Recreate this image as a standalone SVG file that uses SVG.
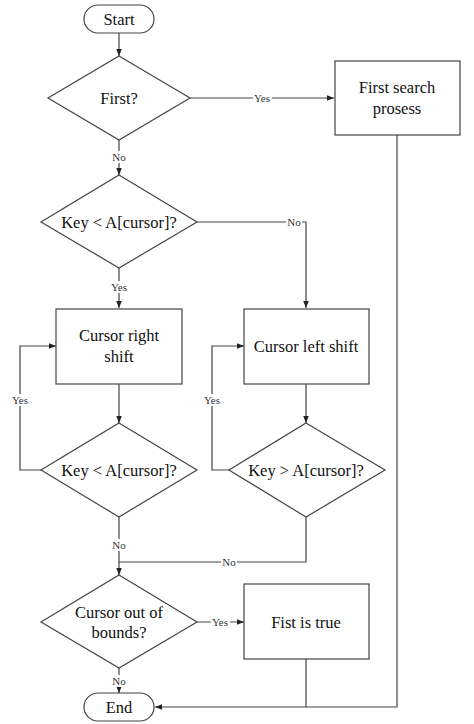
<svg xmlns="http://www.w3.org/2000/svg" width="474" height="724" viewBox="0 0 474 724">
<style>
.s{fill:#fff;stroke:#444;stroke-width:1.2}
.t{font-family:"Liberation Serif","Times New Roman",serif;font-size:16.5px;fill:#111;text-anchor:middle}
.c{fill:none;stroke:#444;stroke-width:1.2}
.l{font-family:"Liberation Serif","Times New Roman",serif;font-size:11px;fill:#333;text-anchor:middle}
.bg{fill:#fff}
</style>
<defs>
<marker id="a" viewBox="0 0 10 10" refX="10" refY="5" markerWidth="7" markerHeight="7" orient="auto" markerUnits="userSpaceOnUse">
<path d="M0,1 L10,5 L0,9 z" fill="#222"/>
</marker>
</defs>
<rect width="474" height="724" fill="#fff"/>
<g id="connectors">
<path class="c" d="M119,33 V56" marker-end="url(#a)"/>
<path class="c" d="M190,98 H334" marker-end="url(#a)"/>
<path class="c" d="M119,140 V175" marker-end="url(#a)"/>
<path class="c" d="M197,222 H306 V308" marker-end="url(#a)"/>
<path class="c" d="M119,268 V308" marker-end="url(#a)"/>
<path class="c" d="M119,384 V423" marker-end="url(#a)"/>
<path class="c" d="M306,384 V423" marker-end="url(#a)"/>
<path class="c" d="M41,470 H20 V346 H56" marker-end="url(#a)"/>
<path class="c" d="M229,470 H212 V346 H244" marker-end="url(#a)"/>
<path class="c" d="M119,517 V575" marker-end="url(#a)"/>
<path class="c" d="M306,517 V562 H119"/>
<path class="c" d="M197,622 H244" marker-end="url(#a)"/>
<path class="c" d="M119,668 V693" marker-end="url(#a)"/>
<path class="c" d="M306,659 V707"/>
<path class="c" d="M397,135 V707 H155" marker-end="url(#a)"/>
<rect class="bg" x="253" y="92" width="19" height="12"/>
<text class="l" x="262" y="102">Yes</text>
<rect class="bg" x="111" y="151" width="16" height="12"/>
<text class="l" x="119" y="161">No</text>
<rect class="bg" x="286" y="216" width="16" height="12"/>
<text class="l" x="294" y="226">No</text>
<rect class="bg" x="110" y="281" width="19" height="12"/>
<text class="l" x="119" y="291">Yes</text>
<rect class="bg" x="10" y="394" width="19" height="12"/>
<text class="l" x="20" y="404">Yes</text>
<rect class="bg" x="202" y="394" width="19" height="12"/>
<text class="l" x="212" y="404">Yes</text>
<rect class="bg" x="111" y="539" width="16" height="12"/>
<text class="l" x="119" y="549">No</text>
<rect class="bg" x="221" y="556" width="16" height="12"/>
<text class="l" x="229" y="566">No</text>
<rect class="bg" x="211" y="616" width="19" height="12"/>
<text class="l" x="220" y="626">Yes</text>
<rect class="bg" x="111" y="675" width="16" height="12"/>
<text class="l" x="119" y="685">No</text>
</g>
<g id="start">
<rect class="s" x="84" y="5" width="70" height="28" rx="14"/>
<text class="t" x="119" y="25">Start</text>
</g>
<g id="first">
<path class="s" d="M119,56 L190,98 L119,140 L48,98 Z"/>
<text class="t" x="119" y="104">First?</text>
</g>
<g id="search">
<rect class="s" x="335" y="61" width="125" height="74"/>
<text class="t" x="397" y="93">First search</text>
<text class="t" x="397" y="114">prosess</text>
</g>
<g id="cmp1">
<path class="s" d="M119,175 L197,222 L119,268 L41,222 Z"/>
<text class="t" x="119" y="228">Key &lt; A[cursor]?</text>
</g>
<g id="right">
<rect class="s" x="56" y="309" width="126" height="75"/>
<text class="t" x="119" y="341">Cursor right</text>
<text class="t" x="119" y="362">shift</text>
</g>
<g id="left">
<rect class="s" x="244" y="309" width="125" height="75"/>
<text class="t" x="306" y="352">Cursor left shift</text>
</g>
<g id="cmp2">
<path class="s" d="M119,423 L197,470 L119,517 L41,470 Z"/>
<text class="t" x="119" y="476">Key &lt; A[cursor]?</text>
</g>
<g id="cmp3">
<path class="s" d="M306,423 L385,470 L306,517 L229,470 Z"/>
<text class="t" x="306" y="476">Key &gt; A[cursor]?</text>
</g>
<g id="bounds">
<path class="s" d="M119,575 L197,622 L119,668 L41,622 Z"/>
<text class="t" x="119" y="618">Cursor out of</text>
<text class="t" x="119" y="638">bounds?</text>
</g>
<g id="fist">
<rect class="s" x="244" y="584" width="125" height="75"/>
<text class="t" x="306" y="628">Fist is true</text>
</g>
<g id="end">
<rect class="s" x="84" y="693" width="70" height="28" rx="14"/>
<text class="t" x="119" y="713">End</text>
</g>
</svg>
